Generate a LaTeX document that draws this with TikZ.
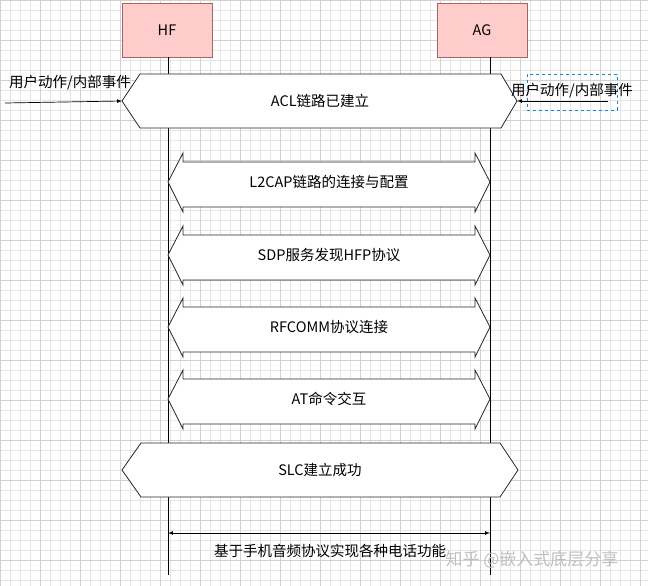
\documentclass[tikz,border=0pt]{standalone}
\usepackage{fontspec}
\setmainfont{Noto Sans CJK SC}
\begin{document}
\begin{tikzpicture}[x=1pt,y=-1pt,
  lbl/.style={font=\fontsize{14.5}{16}\selectfont,inner sep=0pt},
  shp/.style={draw=black!85,fill=white,line width=0.8pt},
  arr/.style={-latex,line width=0.7pt}]
\useasboundingbox (0,0) rectangle (648,586);
\fill[white] (0,0) rectangle (648,586);
\foreach \g in {0,10,...,640}{\draw[black!10,line width=0.5pt] (\g,0) -- (\g,586);}
\foreach \g in {0,10,...,580}{\draw[black!10,line width=0.5pt] (0,\g) -- (648,\g);}
\foreach \g in {0,40,...,640}{\draw[black!18,line width=0.6pt] (\g,0) -- (\g,586);}
\foreach \g in {0,40,...,580}{\draw[black!18,line width=0.6pt] (0,\g) -- (648,\g);}
% actors
\node[draw=black!60!red!60,fill=red!20,minimum width=90,minimum height=54,lbl] (hf) at (167,30) {HF};
\node[draw=black!60!red!60,fill=red!20,minimum width=90,minimum height=54,lbl] (ag) at (482,30) {AG};
\draw[line width=0.8pt] (168,57) -- (168,575);
\draw[line width=0.8pt] (490,57) -- (490,575);
% ACL
\draw[shp] (122,101) -- (140,74) -- (501,74) -- (517,101) -- (501,128) -- (140,128) -- cycle;
\node[lbl] (acl) at (320,101) {ACL链路已建立};
\coordinate (lin) at (122,101);
\coordinate (lsrc) at (5,103);
\draw[arr] (lsrc) -- (lin);
\node[lbl,anchor=west] (ltxt) at (9,83) {用户动作/内部事件};
\node[draw=cyan!70!blue,dashed,minimum width=90,minimum height=36,inner sep=0pt] (rbox) at (572,92) {};
\node[lbl] (rtxt) at (572,91) {用户动作/内部事件};
\coordinate (rin) at (517,101);
\coordinate (rsrc) at (608,101);
\draw[arr] (rsrc) -- (rin);
% double arrows
\foreach \c/\t [count=\i] in {182/L2CAP链路的连接与配置,255/SDP服务发现HFP协议,327/RFCOMM协议连接,399/AT命令交互}{
  \draw[shp] (183,\c-29) -- (168,\c) -- (183,\c+30) -- (183,\c+25) -- (475,\c+25) -- (475,\c+30) -- (490,\c) -- (475,\c-29) -- (475,\c-20) -- (183,\c-20) -- cycle;
  \node[lbl] (m\i) at (329,\c) {\t};
}
% SLC
\draw[shp] (122,470) -- (141,443) -- (500,443) -- (518,470) -- (500,497) -- (141,497) -- cycle;
\node[lbl] (slc) at (320,470) {SLC建立成功};
\coordinate (ba) at (168,533);
\coordinate (bb) at (490,533);
\draw[latex-latex,line width=0.7pt] (ba) -- (bb);
\node[lbl] (bt) at (330,551) {基于手机音频协议实现各种电话功能};
\node[lbl,text=black!25,font=\fontsize{17}{19}\selectfont] (wm) at (532,560) {知乎 @嵌入式底层分享};
\end{tikzpicture}
\end{document}
